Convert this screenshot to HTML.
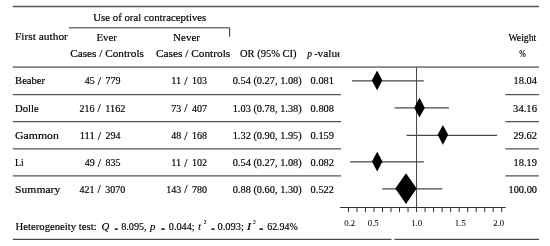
<!DOCTYPE html>
<html lang="en"><head><meta charset="utf-8"><title>Forest plot</title>
<style>
html,body{margin:0;padding:0;background:#fff;}
body{width:550px;height:246px;overflow:hidden;}
svg{display:block;font-family:"Liberation Serif",serif;fill:#000;}
text{stroke:#000;stroke-width:0.18px;}
.i{font-style:italic;}
.b{font-weight:bold;}
.a{stroke-width:0.05px;}
</style></head><body>
<svg width="550" height="246" viewBox="0 0 550 246">
<rect width="550" height="246" fill="#fff"/>
<g transform="translate(0,0.3)">
<defs><clipPath id="pc"><rect x="300" y="40" width="39.5" height="24"/></clipPath></defs>

<path d="M12.8 6.2H539" stroke="#555" stroke-width="1.3" fill="none"/>
<path d="M12.8 66.75H539" stroke="#222" stroke-width="1" fill="none"/>
<path d="M12.8 239.0H391.5M394.4 239.0H539" stroke="#4a4a4a" stroke-width="1.3" fill="none"/>
<g stroke="#555" stroke-width="1.3" fill="none">
<path d="M12.8 94.3H341M505.4 94.3H539"/>
<path d="M12.8 121.4H341M505.4 121.4H539"/>
<path d="M12.8 148.6H341M505.4 148.6H539"/>
<path d="M12.8 175.5H341M505.4 175.5H539"/>
</g>
<path d="M69 27.5H229.6V36.5" stroke="#333" stroke-width="1" fill="none"/>
<g stroke="#333" stroke-width="1" fill="none">
<path d="M416.55 67V207.2" stroke="#444"/>
<path d="M340 207.2H505.8"/>
<path d="M348.43 207.2V211.9M356.94 207.2V211.9M365.46 207.2V211.9M373.98 207.2V211.9M382.49 207.2V211.9M391.00 207.2V211.9M399.52 207.2V211.9M408.04 207.2V211.9M416.55 207.2V211.9M425.06 207.2V211.9M433.58 207.2V211.9M442.10 207.2V211.9M450.61 207.2V211.9M459.12 207.2V211.9M467.64 207.2V211.9M476.16 207.2V211.9M484.67 207.2V211.9M493.19 207.2V211.9M501.70 207.2V211.9"/>
<path d="M352.0 80.5H423.8M394.5 107.6H449.0M406.5 135.0H497.0M350.0 161.55H424.0M382.3 188.5H442.3" stroke="#4a4a4a" stroke-width="1.15"/>
</g>
<g fill="#000">
<path d="M371.8 80.1L377.1 70.19999999999999L382.4 80.1L377.1 90.0Z"/>
<path d="M414.2 107.4L419.5 97.5L424.8 107.4L419.5 117.30000000000001Z"/>
<path d="M437.6 134.5L442.9 124.6L448.2 134.5L442.9 144.4Z"/>
<path d="M371.9 161.3L377.2 151.4L382.5 161.3L377.2 171.20000000000002Z"/>
<path d="M395.3 188.3L406.0 173.0L416.7 188.3L406.0 203.60000000000002Z"/>
</g>
<text x="93.3" y="20.3" font-size="11.0" textLength="113.0" lengthAdjust="spacingAndGlyphs">Use of oral contraceptives</text>
<text x="15.0" y="39.3" font-size="11.0" textLength="52.9" lengthAdjust="spacingAndGlyphs">First author</text>
<text x="96.4" y="40.5" font-size="11.0" textLength="20.6" lengthAdjust="spacingAndGlyphs">Ever</text>
<text x="173" y="40.5" font-size="11.0" textLength="27.0" lengthAdjust="spacingAndGlyphs">Never</text>
<text x="70.2" y="56.8" font-size="11.0" textLength="73.8" lengthAdjust="spacingAndGlyphs">Cases / Controls</text>
<text x="156" y="56.8" font-size="11.0" textLength="74.2" lengthAdjust="spacingAndGlyphs">Cases / Controls</text>
<text x="240" y="56.8" font-size="11.0" textLength="56.5" lengthAdjust="spacingAndGlyphs">OR (95% CI)</text>
<text x="508.4" y="40.5" font-size="9.9" textLength="27.9" lengthAdjust="spacingAndGlyphs">Weight</text>
<text x="519.3" y="56.3" font-size="10.5" textLength="6.5" lengthAdjust="spacingAndGlyphs">%</text>
<text x="15.1" y="83.9" font-size="11.0" textLength="29.9" lengthAdjust="spacingAndGlyphs">Beaber</text>
<text x="105.45" y="83.9" font-size="11.0" textLength="15.0" lengthAdjust="spacingAndGlyphs">779</text>
<text x="97.65" y="84.4" font-size="11.6" textLength="3.3" lengthAdjust="spacingAndGlyphs">/</text>
<text x="84.7" y="83.9" font-size="11.0" textLength="10.0" lengthAdjust="spacingAndGlyphs">45</text>
<text x="191.95" y="83.9" font-size="11.0" textLength="15.0" lengthAdjust="spacingAndGlyphs">103</text>
<text x="184.14999999999998" y="84.4" font-size="11.6" textLength="3.3" lengthAdjust="spacingAndGlyphs">/</text>
<text x="171.2" y="83.9" font-size="11.0" textLength="10.0" lengthAdjust="spacingAndGlyphs">11</text>
<text x="232.7" y="83.9" font-size="11.0" textLength="69.0" lengthAdjust="spacingAndGlyphs">0.54 (0.27, 1.08)</text>
<text x="310.6" y="83.9" font-size="11.0" textLength="23.4" lengthAdjust="spacingAndGlyphs">0.081</text>
<text x="513.5999999999999" y="83.9" font-size="11.0" textLength="23.4" lengthAdjust="spacingAndGlyphs">18.04</text>
<text x="15.1" y="111.3" font-size="11.0" textLength="23.7" lengthAdjust="spacingAndGlyphs">Dolle</text>
<text x="105.35" y="111.3" font-size="11.0" textLength="20.0" lengthAdjust="spacingAndGlyphs">1162</text>
<text x="97.55" y="111.8" font-size="11.6" textLength="3.3" lengthAdjust="spacingAndGlyphs">/</text>
<text x="79.6" y="111.3" font-size="11.0" textLength="15.0" lengthAdjust="spacingAndGlyphs">216</text>
<text x="191.95" y="111.3" font-size="11.0" textLength="15.0" lengthAdjust="spacingAndGlyphs">407</text>
<text x="184.14999999999998" y="111.8" font-size="11.6" textLength="3.3" lengthAdjust="spacingAndGlyphs">/</text>
<text x="171.2" y="111.3" font-size="11.0" textLength="10.0" lengthAdjust="spacingAndGlyphs">73</text>
<text x="232.7" y="111.3" font-size="11.0" textLength="69.0" lengthAdjust="spacingAndGlyphs">1.03 (0.78, 1.38)</text>
<text x="310.6" y="111.3" font-size="11.0" textLength="23.4" lengthAdjust="spacingAndGlyphs">0.808</text>
<text x="513.0999999999999" y="111.3" font-size="11.0" textLength="23.9" lengthAdjust="spacingAndGlyphs">34.16</text>
<text x="15.1" y="139" font-size="11.0" textLength="43.8" lengthAdjust="spacingAndGlyphs">Gammon</text>
<text x="105.45" y="139" font-size="11.0" textLength="15.0" lengthAdjust="spacingAndGlyphs">294</text>
<text x="97.65" y="139.5" font-size="11.6" textLength="3.3" lengthAdjust="spacingAndGlyphs">/</text>
<text x="79.7" y="139" font-size="11.0" textLength="15.0" lengthAdjust="spacingAndGlyphs">111</text>
<text x="191.95" y="139" font-size="11.0" textLength="15.0" lengthAdjust="spacingAndGlyphs">168</text>
<text x="184.14999999999998" y="139.5" font-size="11.6" textLength="3.3" lengthAdjust="spacingAndGlyphs">/</text>
<text x="171.2" y="139" font-size="11.0" textLength="10.0" lengthAdjust="spacingAndGlyphs">48</text>
<text x="232.7" y="139" font-size="11.0" textLength="69.0" lengthAdjust="spacingAndGlyphs">1.32 (0.90, 1.95)</text>
<text x="310.6" y="139" font-size="11.0" textLength="23.4" lengthAdjust="spacingAndGlyphs">0.159</text>
<text x="513.3" y="139" font-size="11.0" textLength="23.7" lengthAdjust="spacingAndGlyphs">29.62</text>
<text x="15.1" y="165.8" font-size="11.0" textLength="8.7" lengthAdjust="spacingAndGlyphs">Li</text>
<text x="105.45" y="165.8" font-size="11.0" textLength="15.0" lengthAdjust="spacingAndGlyphs">835</text>
<text x="97.65" y="166.3" font-size="11.6" textLength="3.3" lengthAdjust="spacingAndGlyphs">/</text>
<text x="84.7" y="165.8" font-size="11.0" textLength="10.0" lengthAdjust="spacingAndGlyphs">49</text>
<text x="191.95" y="165.8" font-size="11.0" textLength="15.0" lengthAdjust="spacingAndGlyphs">102</text>
<text x="184.14999999999998" y="166.3" font-size="11.6" textLength="3.3" lengthAdjust="spacingAndGlyphs">/</text>
<text x="171.2" y="165.8" font-size="11.0" textLength="10.0" lengthAdjust="spacingAndGlyphs">11</text>
<text x="232.7" y="165.8" font-size="11.0" textLength="69.0" lengthAdjust="spacingAndGlyphs">0.54 (0.27, 1.08)</text>
<text x="310.6" y="165.8" font-size="11.0" textLength="23.4" lengthAdjust="spacingAndGlyphs">0.082</text>
<text x="513.5999999999999" y="165.8" font-size="11.0" textLength="23.4" lengthAdjust="spacingAndGlyphs">18.19</text>
<text x="15.1" y="192.7" font-size="11.0" textLength="45.2" lengthAdjust="spacingAndGlyphs">Summary</text>
<text x="105.35" y="192.7" font-size="11.0" textLength="20.0" lengthAdjust="spacingAndGlyphs">3070</text>
<text x="97.55" y="193.2" font-size="11.6" textLength="3.3" lengthAdjust="spacingAndGlyphs">/</text>
<text x="79.6" y="192.7" font-size="11.0" textLength="15.0" lengthAdjust="spacingAndGlyphs">421</text>
<text x="191.95" y="192.7" font-size="11.0" textLength="15.0" lengthAdjust="spacingAndGlyphs">780</text>
<text x="184.14999999999998" y="193.2" font-size="11.6" textLength="3.3" lengthAdjust="spacingAndGlyphs">/</text>
<text x="166.2" y="192.7" font-size="11.0" textLength="15.0" lengthAdjust="spacingAndGlyphs">143</text>
<text x="232.7" y="192.7" font-size="11.0" textLength="69.0" lengthAdjust="spacingAndGlyphs">0.88 (0.60, 1.30)</text>
<text x="310.6" y="192.7" font-size="11.0" textLength="23.4" lengthAdjust="spacingAndGlyphs">0.522</text>
<text x="508.5" y="192.7" font-size="11.0" textLength="28.5" lengthAdjust="spacingAndGlyphs">100.00</text>
<text x="15.5" y="229.9" font-size="11.0" textLength="81.2" lengthAdjust="spacingAndGlyphs">Heterogeneity test:</text>
<text x="101.5" y="229.9" font-size="11.0" class="i" textLength="7.8" lengthAdjust="spacingAndGlyphs">Q</text>
<text x="114.6" y="232.1" font-size="9" class="b" textLength="3.7" lengthAdjust="spacingAndGlyphs">=</text>
<text x="121.2" y="229.9" font-size="11.0" textLength="25.4" lengthAdjust="spacingAndGlyphs">8.095,</text>
<text x="150" y="229.9" font-size="11.0" class="i" textLength="5.4" lengthAdjust="spacingAndGlyphs">p</text>
<text x="161.0" y="232.1" font-size="9" class="b" textLength="4.0" lengthAdjust="spacingAndGlyphs">=</text>
<text x="168.8" y="229.9" font-size="11.0" textLength="25.8" lengthAdjust="spacingAndGlyphs">0.044;</text>
<text x="198.3" y="229.9" font-size="11.0" class="i" textLength="2.7" lengthAdjust="spacingAndGlyphs">t</text>
<text x="203.7" y="223.8" font-size="6" textLength="2.7" lengthAdjust="spacingAndGlyphs">2</text>
<text x="211" y="232.1" font-size="9" class="b" textLength="3.9" lengthAdjust="spacingAndGlyphs">=</text>
<text x="217.5" y="229.9" font-size="11.0" textLength="26.4" lengthAdjust="spacingAndGlyphs">0.093;</text>
<text x="246.8" y="229.9" font-size="11.0" class="i" textLength="4.4" lengthAdjust="spacingAndGlyphs">I</text>
<text x="252.9" y="223.8" font-size="6" textLength="2.7" lengthAdjust="spacingAndGlyphs">2</text>
<text x="259.2" y="232.1" font-size="9" class="b" textLength="4.1" lengthAdjust="spacingAndGlyphs">=</text>
<text x="267.2" y="229.9" font-size="11.0" textLength="30.5" lengthAdjust="spacingAndGlyphs">62.94%</text>
<text x="344.3" y="226.1" font-size="8.3" class="a" textLength="10.9" lengthAdjust="spacingAndGlyphs">0.2</text>
<text x="367.8" y="226.1" font-size="8.3" class="a" textLength="10.9" lengthAdjust="spacingAndGlyphs">0.5</text>
<text x="411.15000000000003" y="226.1" font-size="8.3" class="a" textLength="10.9" lengthAdjust="spacingAndGlyphs">1.0</text>
<text x="454.85" y="226.1" font-size="8.3" class="a" textLength="10.9" lengthAdjust="spacingAndGlyphs">1.5</text>
<text x="493.15000000000003" y="226.1" font-size="8.3" class="a" textLength="10.9" lengthAdjust="spacingAndGlyphs">2.0</text>
<g clip-path="url(#pc)"><text x="307.2" y="56.8" font-size="11" class="i" textLength="4.7" lengthAdjust="spacingAndGlyphs">p</text><text x="314.5" y="56.8" font-size="11" textLength="3.0" lengthAdjust="spacingAndGlyphs">-</text><text x="317.5" y="56.8" font-size="11" textLength="24.7" lengthAdjust="spacingAndGlyphs">value</text></g>
</g></svg></body></html>
